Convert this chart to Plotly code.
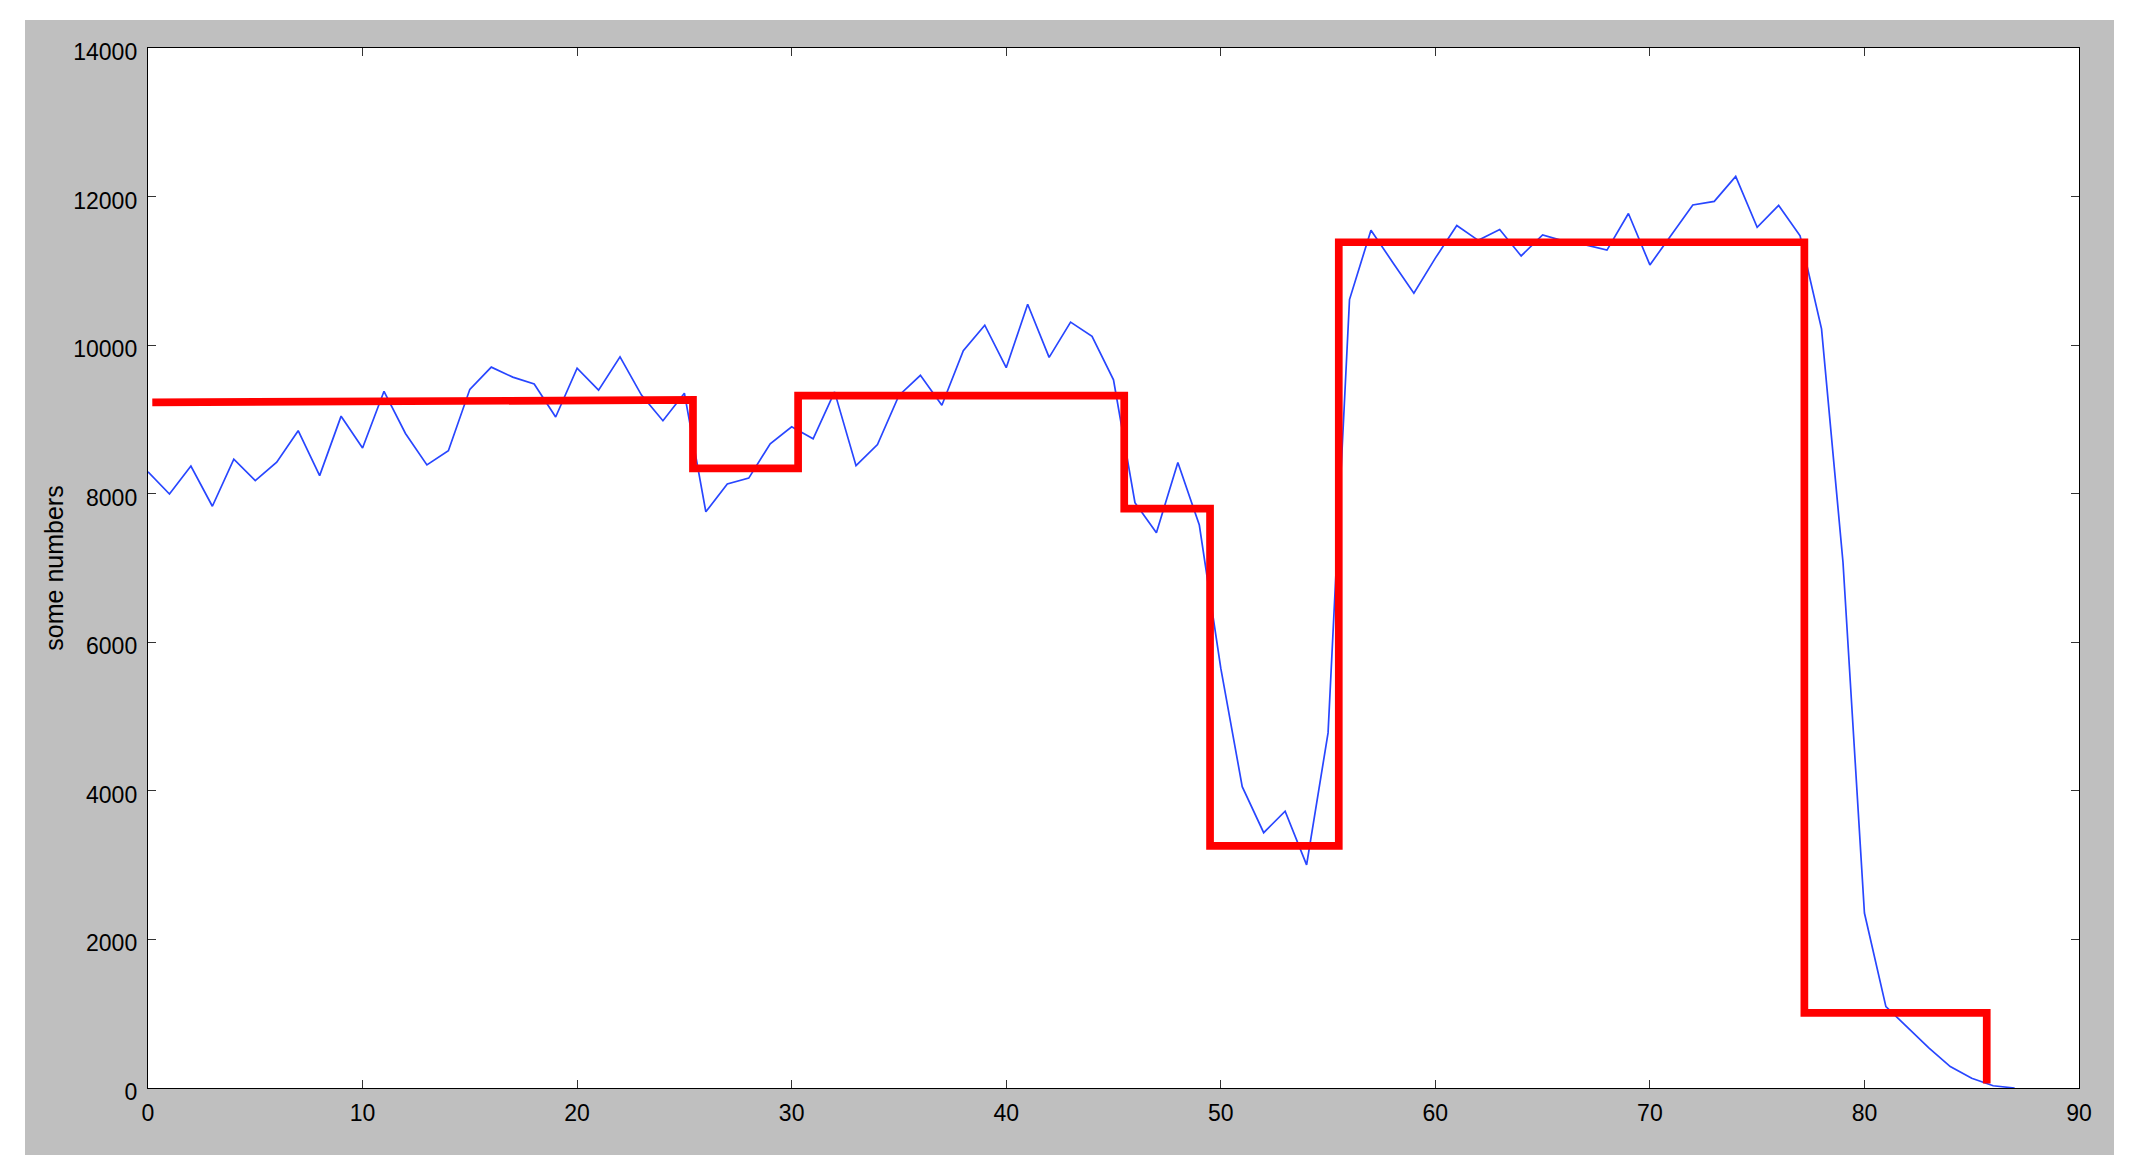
import plotly.graph_objects as go

# ---- data ----
sample_x = list(range(88))
sample_values = [
    8296, 7996, 8373, 7831, 8466, 8177, 8425, 8848, 8244, 9044,
    8615, 9379, 8811, 8388, 8579, 9405, 9704, 9570, 9477, 9033,
    9689, 9394, 9843, 9327, 8982, 9353, 7756, 8132, 8210, 8673,
    8902, 8739, 9371, 8378, 8661, 9323, 9594, 9191, 9925, 10268,
    9696, 10551, 9835, 10310, 10118, 9534, 7879, 7475, 8420, 7578,
    5652, 4057, 3437, 3726, 3004, 4780, 10614, 11547, 11120, 10700,
    11171, 11610, 11411, 11556, 11201, 11484, 11400, 11350, 11279, 11772,
    11080, 11490, 11887, 11935, 12272, 11586, 11881, 11471, 10220, 7078,
    2355, 1096, 822, 539, 288, 130, 30, 0,
]

step_x = [0.2, 25.4, 25.4, 30.3, 30.3, 45.5, 45.5, 49.5, 49.5, 55.5, 55.5, 77.2, 77.2, 85.7, 85.7]
step_y = [9230, 9262, 8340, 8340, 9320, 9320, 7800, 7800, 3260, 3260, 11385, 11385, 1010, 1010, 60]

x_ticks = [0, 10, 20, 30, 40, 50, 60, 70, 80, 90]
y_ticks = [0, 2000, 4000, 6000, 8000, 10000, 12000, 14000]
y_label = "some numbers"

# ---- figure ----
# page body has an 8px margin, so the figure is offset by 8px
OFF = 8
W, H = 2134 - OFF, 1174 - OFF
L, T = 148 - OFF, 48 - OFF
R = W - (2079 - OFF)
B = H - (1088 - OFF)
GRAY = "#bfbfbf"
FONT = "Liberation Sans, Helvetica, Arial, sans-serif"

fig = go.Figure()
fig.add_trace(go.Scatter(
    x=sample_x, y=sample_values, mode="lines",
    line=dict(color="#2846ff", width=1.7), hoverinfo="skip", showlegend=False,
))
fig.add_trace(go.Scatter(
    x=step_x, y=step_y, mode="lines",
    line=dict(color="#ff0000", width=7.7), hoverinfo="skip", showlegend=False,
))

pw = W - L - R
ph = H - T - B
gx0 = (25 - OFF - L) / pw
gx1 = (2114 - OFF - L) / pw
gy1 = (H - B - (20 - OFF)) / ph
gy0 = (H - B - (1155 - OFF)) / ph

strips = [
    (gx0, 0, gy0, gy1),
    (1, gx1, gy0, gy1),
    (0, 1, 1, gy1),
    (0, 1, gy0, 0),
]
for x0, x1, y0, y1 in strips:
    fig.add_shape(type="rect", xref="paper", yref="paper", x0=x0, x1=x1, y0=y0, y1=y1,
                  fillcolor=GRAY, line=dict(width=0), layer="below")

axis_common = dict(
    showgrid=False, zeroline=False, showline=True, linecolor="black", linewidth=1.4,
    mirror="allticks", ticks="inside", ticklen=8, tickwidth=1, tickcolor="#333333",
    tickfont=dict(family=FONT, size=23, color="black"),
)

fig.update_layout(
    width=W, height=H,
    margin=dict(l=L, r=R, t=T, b=B, autoexpand=False),
    paper_bgcolor="white", plot_bgcolor="white",
    font=dict(family=FONT, color="black"),
    xaxis=dict(range=[0, 90], tickvals=x_ticks, ticktext=[str(v) for v in x_ticks],
               ticklabelstandoff=4, **axis_common),
    yaxis=dict(range=[0, 14000], tickvals=y_ticks, ticktext=[str(v) for v in y_ticks],
               ticklabelstandoff=5, ticklabelshift=4,
               title=dict(text=y_label, font=dict(family=FONT, size=25, color="black"), standoff=2),
               **axis_common),
)

fig.write_html("out.html", config={"displayModeBar": False})
